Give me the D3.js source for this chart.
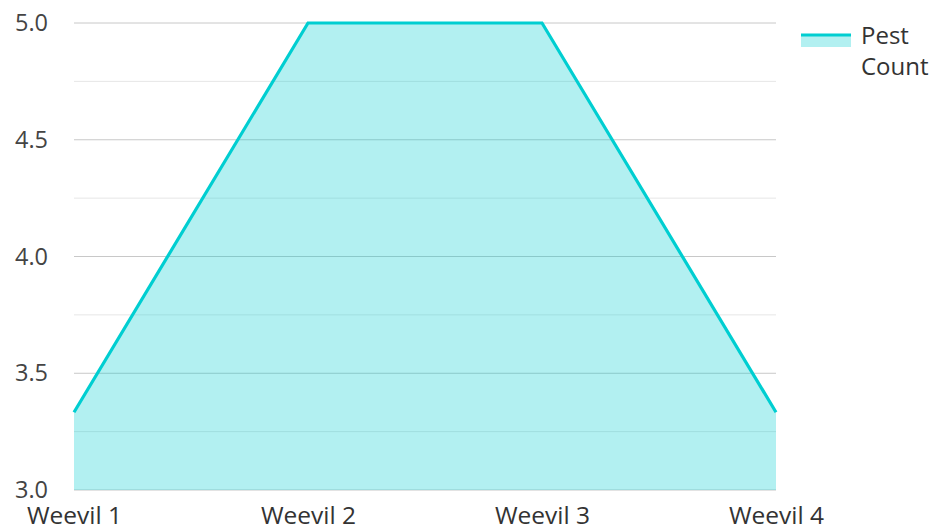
<!DOCTYPE html>
<html><head><meta charset="utf-8">
<script src="https://cdn.jsdelivr.net/npm/d3@7"></script>
<style>body{margin:0;background:#fff;} text{font-family:"Open Sans",sans-serif;}</style>
</head><body>
<svg id="c" width="934" height="531"></svg>
<script>
const categories = ["Weevil 1","Weevil 2","Weevil 3","Weevil 4"];
const values = [3.333, 5, 5, 3.333];
const yTicks = [3.0, 3.5, 4.0, 4.5, 5.0];
const minorTicks = [3.25, 3.75, 4.25, 4.75];
const seriesName = ["Pest", "Count"];

const svg = d3.select("#c");
const m = {l:74, r:776, t:23, b:490};
const x = d3.scalePoint().domain(categories).range([m.l, m.r]).padding(0);
const y = d3.scaleLinear().domain([3,5]).range([m.b, m.t]);
const color = "#00CED1";

svg.append("g").selectAll("line").data(minorTicks).join("line")
  .attr("x1", m.l).attr("x2", m.r).attr("y1", d=>y(d)).attr("y2", d=>y(d))
  .attr("stroke", "#e6e6e6").attr("stroke-width", 1);
svg.append("g").selectAll("line").data(yTicks).join("line")
  .attr("x1", m.l).attr("x2", m.r).attr("y1", d=>y(d)).attr("y2", d=>y(d))
  .attr("stroke", "#c8c8c8").attr("stroke-width", 1);

const area = d3.area().x((d,i)=>x(categories[i])).y0(y(3)).y1(d=>y(d));
svg.append("path").datum(values).attr("d", area).attr("fill", color).attr("fill-opacity", 0.3);
const line = d3.line().x((d,i)=>x(categories[i])).y(d=>y(d));
svg.append("path").datum(values).attr("d", line).attr("fill","none").attr("stroke", color).attr("stroke-width", 3.2);

const yAxis = d3.axisLeft(y).tickValues(yTicks).tickFormat(d3.format(".1f")).tickSize(0).tickPadding(26);
const gy = svg.append("g").attr("transform", `translate(${m.l},0)`).call(yAxis);
gy.select(".domain").remove();
gy.selectAll("text").attr("font-size", 23.5).attr("fill", "#444").attr("font-family", "'Open Sans',sans-serif");

const xAxis = d3.axisBottom(x).tickSize(0).tickPadding(17);
const gx = svg.append("g").attr("transform", `translate(0,${m.b})`).call(xAxis);
gx.select(".domain").remove();
gx.selectAll("text").attr("font-size", 24.5).attr("fill", "#333").attr("font-family", "'Open Sans',sans-serif");

const lg = svg.append("g");
lg.append("rect").attr("x", 801).attr("y", 36).attr("width", 50).attr("height", 11).attr("fill", color).attr("fill-opacity", 0.3);
lg.append("line").attr("x1", 801).attr("x2", 851).attr("y1", 35).attr("y2", 35).attr("stroke", color).attr("stroke-width", 3);
lg.append("text").attr("x", 861).attr("y", 44).attr("font-size", 24).attr("fill", "#333")
  .selectAll("tspan").data(seriesName).join("tspan").attr("x", 861).attr("dy", (d,i)=> i? 31 : 0).text(d=>d);
</script>
</body></html>
